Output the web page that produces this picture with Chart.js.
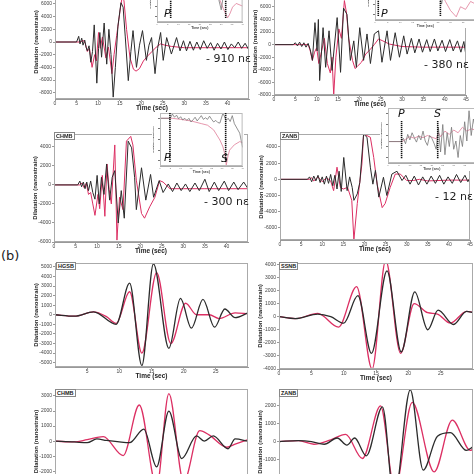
<!DOCTYPE html>
<html>
<head>
<meta charset="utf-8">
<script src="https://cdn.jsdelivr.net/npm/chart.js@4"></script>
<style>
  html, body { margin: 0; padding: 0; background: #fff; }
  #fig { position: relative; width: 474px; height: 474px; overflow: hidden; background: #fff; }
  .note { position: absolute; font: 11px "DejaVu Sans", sans-serif; color: #222; line-height: 12px; white-space: nowrap; }
  .pick { position: absolute; font: italic 11px "DejaVu Sans", sans-serif; color: #111; line-height: 12px; }
  .stn { position: absolute; font: bold 5.5px "Liberation Sans", sans-serif; color: #222; border: 1px solid #888;
         background: #fff; padding: 0 1px; line-height: 6px; z-index: 5; }
</style>
</head>
<body>
<div id="fig"></div>
<script>
// ---- (a) raw records: [time (s), dilatation (nanostrain)] ----
const hgsbRawObs = [[0,0],[5,0],[5.5,900],[5.8,-300],[6.2,600],[6.5,-500],[6.9,300],[7.2,-800],[7.5,-1400],[7.9,-600],[8.3,-3200],[8.7,-1500],[9.1,2700],[9.7,-6500],[10.1,-1000],[10.4,1500],[10.8,-2400],[11.4,3000],[12,-3500],[12.5,2000],[13,-2000],[13.5,-8700],[14,-4000],[14.6,2500],[15.3,6200],[15.8,5500],[16.3,800],[17,-6100],[17.6,-1500],[18.1,1800],[18.9,-4000],[19.6,-500],[20.3,1800],[21.2,-2900],[21.8,-500],[22.4,700],[23.2,-5000],[23.8,-1000],[24.5,1500],[25.1,-2900],[25.9,700],[27,-1900],[28.2,700],[29,-1400],[29.8,200],[30.5,-1400],[31.3,100],[32.1,-1300],[32.9,0],[33.7,-1200],[34.5,200],[35.3,-1000],[36.1,-100],[36.9,-1300],[37.7,-200],[38.5,-1100],[39.3,0],[40.1,-1200],[40.9,-300],[41.7,-900],[42.5,0],[43.3,-1000],[44.1,-200],[45,-1300]];
const hgsbRawSyn = [[0,0],[6,0],[6.5,300],[7,-200],[7.5,-1500],[8,-1000],[8.6,-4000],[9.2,-2000],[9.6,-3000],[10.1,1500],[10.5,-1000],[11,800],[11.8,-2500],[12.4,-800],[13.2,-5000],[13.7,-2000],[14.3,1000],[14.8,3500],[15.2,5500],[15.6,7200],[16,6500],[16.6,2000],[17.4,-2500],[18.2,-4300],[18.8,-4600],[19.6,-4200],[20.5,-3000],[21.5,-2200],[22.5,-1500],[23.5,-800],[24.5,-300],[25.5,-500],[27,-700],[30,-900],[35,-900],[40,-900],[45,-900]];

const ssnbRawObs = [[0,0],[4.5,0],[5,300],[5.5,-200],[6,400],[6.5,-300],[7,300],[7.5,-400],[8,200],[8.5,-800],[9,-2500],[9.6,3500],[10.1,-1000],[10.4,4000],[10.7,-5700],[11.5,2700],[12.1,-3600],[12.9,2200],[13.6,-4100],[14.8,4300],[15.6,-4400],[16.3,5800],[17.1,4800],[17.9,-2500],[18.7,600],[19.3,-3600],[20.1,2700],[21,-2500],[21.8,1700],[22.6,-3000],[23.5,1700],[24.5,2200],[25.3,-2800],[26.5,2200],[27.3,-2500],[28.4,1900],[29.4,-2000],[30.4,1400],[31.2,-1500],[32.2,1000],[33,-1300],[34,900],[34.8,-1200],[35.8,800],[36.6,-1100],[37.6,900],[38.4,-1000],[39.4,700],[40.2,-1100],[41.2,800],[42,-1000],[43,600],[43.8,-1200],[44.5,500],[45,-1800]];
const ssnbRawSyn = [[0,0],[8,0],[8.5,-1000],[9,-2500],[9.5,-1200],[10,-500],[10.5,-3000],[11,-1500],[11.8,1000],[12.5,-3000],[13.2,-4500],[13.6,-2000],[14,-8000],[14.5,-2000],[15.2,2500],[15.8,1000],[16.5,7000],[17,5000],[17.5,1000],[18.4,-2500],[19,-3800],[19.6,-3400],[20.5,-2800],[21.5,-1500],[22.5,-800],[23.5,0],[24.5,900],[25.5,600],[27,100],[30,-300],[35,-400],[40,-400],[45,-400]];

const chmbRawObs = [[0,0],[5.5,0],[6,400],[6.4,-200],[6.8,300],[7.2,-400],[7.6,300],[8,-600],[8.5,400],[9,-800],[9.5,-1500],[10,1000],[10.5,-2000],[11,800],[11.6,-1000],[12.2,2200],[12.9,-1600],[13.5,800],[14.1,1500],[14.9,-4000],[15.6,-600],[16.3,-3500],[17.2,4600],[18,3900],[18.7,800],[19.1,-2600],[20.3,1800],[21.3,-1600],[22.4,1100],[23.1,-1300],[24.4,450],[25.3,-800],[26.5,100],[27.5,-700],[28.5,200],[29.5,-600],[30.5,100],[31.5,-700],[32.7,200],[33.7,-600],[35,600],[36,-700],[37.2,300],[38.2,-600],[39.5,400],[40.5,-600],[41.7,300],[42.7,-500],[44,300],[45,-400]];
const chmbRawSyn = [[0,0],[6,0],[6.5,200],[7,-300],[7.5,200],[8,-1000],[8.5,-800],[9,-2000],[9.5,-3200],[10.2,-1000],[10.6,-2500],[11.2,1000],[11.8,-3300],[12.3,2200],[12.8,-500],[13.3,-2000],[14.1,4200],[14.6,-5800],[15.2,-1300],[16,-2600],[16.8,4600],[17.8,5100],[18.3,4200],[19.1,500],[20.3,-3000],[21,-3500],[22.2,-2300],[23.4,-1300],[24.5,450],[25.3,300],[26.9,-400],[30,-400],[35,-400],[40,-400],[45,-400]];

const zanbRawObs = [[0,0],[6.5,0],[7,300],[7.5,-300],[8,400],[8.5,-200],[9,500],[9.5,-400],[10,300],[10.5,-600],[11,400],[11.5,-500],[12,600],[12.5,-800],[13,500],[13.5,-1200],[14,1000],[14.5,-1500],[15.1,2700],[15.9,-1400],[16.5,300],[17.1,-1000],[17.5,-2600],[18.3,-1800],[18.9,-400],[19.8,5600],[20.6,5200],[21.4,1500],[22,-600],[22.6,1100],[23.4,-2200],[24.5,250],[25.3,-2000],[26.5,650],[27.7,1000],[28.9,-150],[29.8,500],[30.8,-600],[31.8,400],[32.8,-700],[33.8,300],[34.8,-600],[35.8,400],[36.8,-500],[37.8,500],[38.8,-600],[39.8,300],[40.8,-500],[41.8,600],[42.8,-400],[43.8,500],[44.5,-300],[45,200]];
const zanbRawSyn = [[0,0],[7,0],[7.5,200],[8,-200],[9,300],[10,-300],[11,200],[12,-200],[12.7,-1400],[13.5,1500],[14.3,-1000],[15,-1200],[16,-1000],[17,-2600],[17.5,-7500],[18.3,-3000],[19.4,1900],[19.8,5600],[21.4,5200],[22.2,2700],[23,-600],[24.2,-3500],[24.9,-3000],[26.1,-1000],[27.3,650],[28.5,650],[30,-150],[31.6,-150],[33,0],[35,-200],[40,-100],[45,-100]];

// ---- (b) filtered records ----
const hgsbFiltObs = [[0,0],[3,-150],[6,300],[9.5,-1000],[11.6,3300],[13.5,-5300],[15.3,5300],[17.7,-3500],[19.5,1700],[21.2,-1400],[23,1600],[24.8,-1300],[26.4,600],[28,-300],[30,200]];
const hgsbFiltSyn = [[0,0],[3,-150],[6,300],[8,-200],[9.5,-900],[11.6,2400],[13.5,-4000],[15.8,4400],[18,-3000],[20.3,1200],[22,0],[24,0],[25.5,-400],[28,200],[30,100]];
const ssnbFiltObs = [[0,0],[2.5,-150],[6,200],[8,0],[10,-500],[12.2,1600],[14.3,-2800],[16.7,3500],[18.9,-2700],[21,1900],[23,-1000],[24.6,500],[27,-600],[29,400],[30,300]];
const ssnbFiltSyn = [[0,0],[2.5,-150],[6,250],[9.2,-800],[12,2300],[14.4,-4000],[16.5,4300],[18.8,-2800],[20.9,1000],[23,300],[24.5,200],[26.5,-500],[29,400],[30,350]];
const chmbFiltObs = [[0,0],[3,-50],[5,-100],[6.5,150],[8,50],[10,-50],[11.6,-100],[13.8,800],[15.8,-1700],[17.7,2000],[19.7,-1150],[22,350],[23.2,0],[24.6,350],[26.9,-500],[28,150],[30,0]];
const chmbFiltSyn = [[0,0],[3,-50],[5,100],[7.5,300],[10.6,-950],[13.1,2400],[15.8,-3000],[17.7,3150],[20,-2700],[22.5,700],[24,400],[26.7,-400],[28,-200],[30,100]];
const zanbFiltObs = [[0,0],[3,50],[5,0],[7,-150],[9,200],[10.5,-200],[11.7,200],[13.5,-800],[16,1950],[17.8,-3200],[20.3,2900],[22.3,-1600],[24.5,300],[26.5,500],[29,-500],[30,-300]];
const zanbFiltSyn = [[0,0],[3,50],[5.4,-150],[8,100],[10.3,400],[12.9,-950],[15.7,2000],[17.9,-2700],[20.6,2200],[24,-1700],[26.8,1200],[29.6,-500],[30,-400]];

// ---- insets (zoom on P to S window, relative units) ----
const insHgsbObs = [[0,8],[6,8.5],[8,7.8],[10,8.6],[12,7.6],[14,8.4],[16,7.9],[18,8.7],[20,7.5],[22,8.2],[24,7.4],[26,7.9],[28,6.5],[29,4],[30,2.3],[31,5],[32,7],[33,6],[35,8],[37,5],[40,6]];
const insHgsbSyn = [[0,8],[6,8],[10,7.8],[15,7.5],[20,7],[25,6],[28,5],[29.3,4.2],[31,2.5],[33,0.8],[34,1.5],[35.3,2.8],[37,3.5],[40,3]];
const insSsnbObs = [[0,8],[2,8.4],[4,7.6],[6,8.6],[8,7.5],[10,8.2],[12,7.8],[14,8.8],[16,7.4],[18,8.3],[20,7.6],[22,8.5],[24,7],[25.5,5],[26.5,3],[27.5,6],[29,7.5],[31,6],[33,8],[35,4.5],[37,7],[40,6]];
const insSsnbSyn = [[0,8],[5,8],[10,7.8],[15,7.6],[20,7.3],[24,6.5],[26,5.5],[28,3.5],[30,1.8],[32.3,0.6],[34,2.5],[36,2],[38,3.5],[40,3]];
const insChmbObs = [[0,9],[5,9],[6,9.8],[7,9.2],[8,9.6],[9,8.9],[10,9.3],[11,8.7],[12,9],[13,8.6],[14,9],[15,8.3],[16,8.7],[17,9.2],[18,8.5],[19,9],[20,9.5],[21,8.8],[22,9.1],[23,8.8],[24,9.4],[25,8.8],[26,8.3],[27,8.6],[28,8.2],[29,8.1],[30.5,10],[32,8.6],[33,9],[34,8.4],[35,9.5],[36,8],[38.6,6.2],[40,3.5]];
const insChmbSyn = [[0,9],[6,9],[10,8.8],[15,8.5],[20,8],[23,7.7],[26,6.8],[29,4.9],[30.5,3.6],[31.5,2],[32.1,0.2],[33,2],[33.7,3],[36,4],[38.6,4.6],[40,4.4]];
const insZanbObs = [[0,3.9],[6,3.9],[7,4.5],[8,3.5],[9,5.2],[10,4.2],[11,5.5],[12,4.6],[13,3.8],[14,5],[15,4.2],[16,5.8],[17,4],[18,3.2],[19,5],[20,4.5],[21,3.6],[22,2.5],[23,6.5],[24,2],[25,7],[26,1.5],[27,5.5],[28,3],[29,6.5],[30,2.5],[31,4],[32,1],[33,5],[34,3],[35,7.5],[36,4],[37,9.5],[38,5],[39,8],[40,6]];
const insZanbSyn = [[0,3.9],[6.5,3.9],[8,4.3],[10,4.8],[12,4.5],[14,4.9],[16,4.6],[18,5],[20,4.7],[22,4.4],[23,5.5],[24,4.8],[26,5.8],[28,5.2],[30,6],[32,5.5],[34,6.5],[36,5.8],[38,6.2],[40,6]];

const rawTimeTicks = [0, 5, 10, 15, 20, 25, 30, 35, 40, 45];
const leftRawTimeTicks = [0, 5, 10, 15, 20, 25, 30, 35, 40];
const filtTimeTicks = [0, 5, 10, 15, 20, 25];

const BLK = "#2b2b2b";
const RED = "#dc2f63";
const fig = document.getElementById("fig");

// frame round the plot, optional white background, dashed P/S picks
const frame = {
  id: "frame",
  beforeDraw(chart, args, o) {
    if (!o.bg) return;
    const ctx = chart.ctx;
    ctx.save();
    ctx.fillStyle = o.bg;
    ctx.fillRect(0, 0, chart.width, chart.height);
    ctx.restore();
  },
  afterDraw(chart, args, o) {
    const { ctx, chartArea: { left, top, right, bottom } } = chart;
    ctx.save();
    ctx.strokeStyle = o.color || "#aaa";
    ctx.lineWidth = 1;
    ctx.strokeRect(left + 0.5, top + 0.5, right - left - 1, bottom - top - 1);
    (o.picks || []).forEach((p) => {
      const x = chart.scales.x.getPixelForValue(p);
      ctx.beginPath();
      ctx.strokeStyle = "#111";
      ctx.lineWidth = 1.6;
      ctx.setLineDash([1.2, 0.8]);
      ctx.moveTo(x, top + (o.pickTop || 0));
      ctx.lineTo(x, bottom - 4);
      ctx.stroke();
    });
    ctx.restore();
  },
};

function addCanvas(left, top, w, h) {
  const cv = document.createElement("canvas");
  cv.width = w;
  cv.height = h;
  cv.style.cssText = `position:absolute;left:${left}px;top:${top}px;width:${w}px;height:${h}px`;
  fig.appendChild(cv);
  return cv;
}

function panel(o) {
  const YW = 22, XH = 13, PT = 3, PR = 6;
  const left = Math.round(o.x0) - YW, top = Math.round(o.y0) - PT;
  const w = Math.round(o.x1) - left + PR, h = Math.round(o.y1) - top + XH;
  const cv = addCanvas(left, top, w, h);
  const tickFont = { family: "Liberation Sans", size: 5 };
  new Chart(cv, {
    type: "line",
    data: {
      datasets: [
        { data: o.obs, borderColor: BLK, borderWidth: o.lw, pointRadius: 0, cubicInterpolationMode: o.smooth ? "monotone" : "default", tension: 0 },
        { data: o.syn, borderColor: RED, borderWidth: o.lw, pointRadius: 0, cubicInterpolationMode: o.smooth ? "monotone" : "default", tension: 0 },
      ],
    },
    options: {
      responsive: false,
      animation: false,
      events: [],
      layout: { padding: { top: PT, right: PR, left: 0, bottom: 0 } },
      plugins: { legend: { display: false }, tooltip: { enabled: false }, frame: {} },
      scales: {
        x: {
          type: "linear", min: o.xmin, max: o.xmax,
          afterBuildTicks: (s) => { s.ticks = o.xticks.map((v) => ({ value: v })); },
          afterFit: (s) => { s.height = XH; },
          ticks: { font: tickFont, color: "#444", padding: 0, maxRotation: 0, autoSkip: false, callback: (v) => String(v) },
          grid: { drawOnChartArea: false, tickLength: 2, color: "#999" },
          border: { color: "#999" },
          title: { display: true, text: "Time (sec)", font: { family: "Liberation Sans", size: 6.5, weight: "bold" }, color: "#222", padding: 0 },
        },
        y: {
          min: o.ymin, max: o.ymax,
          afterBuildTicks: (s) => { s.ticks = o.yticks.map((v) => ({ value: v })); },
          afterFit: (s) => { s.width = YW; },
          ticks: { font: tickFont, color: "#444", padding: 1, autoSkip: false, callback: (v) => String(v) },
          grid: { drawOnChartArea: false, tickLength: 2, color: "#999" },
          border: { color: "#999" },
          title: { display: true, text: "Dilatation (nanostrain)", font: { family: "Liberation Sans", size: 6, weight: "bold" }, color: "#222", padding: 0 },
        },
      },
    },
    plugins: [frame],
  });
}

function inset(o) {
  const YW = 8, XH = 8, PT = 1, PR = 1;
  const left = Math.round(o.x0) - YW, top = Math.round(o.y0) - PT;
  const w = Math.round(o.x1) - left + PR, h = Math.round(o.y1) - top + XH;
  const cv = addCanvas(left, top, w, h);
  const tiny = { family: "Liberation Sans", size: 2.5 };
  new Chart(cv, {
    type: "line",
    data: {
      datasets: [
        { data: o.obs, borderColor: "#777", borderWidth: 0.8, pointRadius: 0, tension: 0 },
        { data: o.syn, borderColor: "#e07c98", borderWidth: 0.8, pointRadius: 0, tension: 0 },
      ],
    },
    options: {
      responsive: false,
      animation: false,
      events: [],
      layout: { padding: { top: PT, right: PR, left: 0, bottom: 0 } },
      plugins: { legend: { display: false }, tooltip: { enabled: false }, frame: { bg: "#fff", color: "#bbb", picks: o.picks, pickTop: o.pickTop } },
      scales: {
        x: {
          type: "linear", min: 0, max: 40,
          afterBuildTicks: (s) => { s.ticks = [0, 5, 10, 15, 20, 25, 30, 35, 40].map((v) => ({ value: v })); },
          afterFit: (s) => { s.height = XH; },
          ticks: { font: tiny, color: "#777", padding: 0, maxRotation: 0, autoSkip: false },
          grid: { drawOnChartArea: false, tickLength: 1, color: "#aaa" },
          border: { color: "#aaa" },
          title: { display: true, text: "Time (sec)", font: { family: "Liberation Sans", size: 3.5, weight: "bold" }, color: "#444", padding: 0 },
        },
        y: {
          min: 0, max: 10,
          afterBuildTicks: (s) => { s.ticks = [1, 3, 5, 7, 9].map((v) => ({ value: v })); },
          afterFit: (s) => { s.width = YW; },
          ticks: { display: false },
          grid: { drawOnChartArea: false, tickLength: 2, color: "#777" },
          border: { color: "#aaa" },
          title: { display: true, text: "Dilatation (nanostrain)", font: { family: "Liberation Sans", size: 2.5, weight: "bold" }, color: "#444", padding: 0 },
        },
      },
    },
    plugins: [frame],
  });
}

function text(cls, str, x, y) {
  const d = document.createElement("div");
  d.className = cls;
  d.textContent = str;
  d.style.left = x + "px";
  d.style.top = y + "px";
  fig.appendChild(d);
}

const step = (a, b, s) => { const r = []; for (let v = a; v <= b; v += s) r.push(v); return r; };

// (a) raw
panel({ x0: 55, x1: 249, y0: -16, y1: 98.5, xmin: 0, xmax: 45, ymin: -9000, ymax: 9000, xticks: leftRawTimeTicks, yticks: step(-8000, 8000, 2000), obs: hgsbRawObs, syn: hgsbRawSyn, lw: 1 });
panel({ x0: 274, x1: 466, y0: -13, y1: 94.6, xmin: 0, xmax: 45, ymin: -8000, ymax: 9000, xticks: rawTimeTicks, yticks: step(-8000, 8000, 2000), obs: ssnbRawObs, syn: ssnbRawSyn, lw: 1 });
panel({ x0: 54, x1: 248, y0: 132.7, y1: 242.2, xmin: 0, xmax: 45, ymin: -6000, ymax: 5350, xticks: leftRawTimeTicks, yticks: step(-6000, 4000, 2000), obs: chmbRawObs, syn: chmbRawSyn, lw: 1 });
panel({ x0: 280, x1: 470, y0: 133, y1: 240, xmin: 0, xmax: 45, ymin: -7500, ymax: 5600, xticks: rawTimeTicks, yticks: step(-6000, 4000, 2000), obs: zanbRawObs, syn: zanbRawSyn, lw: 1 });

// (b) filtered
panel({ x0: 55, x1: 248, y0: 261.6, y1: 367, xmin: 0, xmax: 30, ymin: -5450, ymax: 5400, xticks: filtTimeTicks.slice(1), yticks: step(-5000, 5000, 1000), obs: hgsbFiltObs, syn: hgsbFiltSyn, lw: 1.3, smooth: true });
panel({ x0: 279, x1: 473, y0: 261.6, y1: 368.5, xmin: 0, xmax: 30, ymin: -4000, ymax: 4100, xticks: filtTimeTicks, yticks: step(-4000, 4000, 1000), obs: ssnbFiltObs, syn: ssnbFiltSyn, lw: 1.3, smooth: true });
panel({ x0: 55, x1: 248, y0: 387.7, y1: 494, xmin: 0, xmax: 30, ymin: -3500, ymax: 3460, xticks: filtTimeTicks.slice(1), yticks: step(-3000, 3000, 1000), obs: chmbFiltObs, syn: chmbFiltSyn, lw: 1.3, smooth: true });
panel({ x0: 279, x1: 473, y0: 388.3, y1: 495, xmin: 0, xmax: 30, ymin: -3000, ymax: 2950, xticks: filtTimeTicks, yticks: step(-3000, 2000, 1000), obs: zanbFiltObs, syn: zanbFiltSyn, lw: 1.3, smooth: true });

// insets
inset({ x0: 157, x1: 243, y0: -31, y1: 22, obs: insHgsbObs, syn: insHgsbSyn, picks: [6.4, 32.1], pickTop: 0 });
inset({ x0: 375, x1: 476, y0: -33, y1: 20, obs: insSsnbObs, syn: insSsnbSyn, picks: [1.3, 26], pickTop: 0 });
inset({ x0: 160, x1: 243, y0: 113, y1: 166, obs: insChmbObs, syn: insChmbSyn, picks: [4.8, 31.8], pickTop: 0 });
inset({ x0: 388, x1: 476, y0: 108, y1: 163, obs: insZanbObs, syn: insZanbSyn, picks: [6.2, 22.7], pickTop: 13 });

// labels
text("pick", "P", 164, 8);
text("pick", "P", 381, 8);
text("pick", "P", 164, 152);
text("pick", "S", 221, 153);
text("pick", "P", 398, 108);
text("pick", "S", 434, 108);

text("note", "- 910 n\u03b5", 206, 53);
text("note", "- 380 n\u03b5", 424, 59);
text("note", "- 300 n\u03b5", 204, 196);
text("note", "- 12 n\u03b5", 435, 191);
const b = document.createElement("div");
b.className = "note";
b.style.cssText = "left:1px;top:249px;font-size:13px;line-height:14px";
b.textContent = "(b)";
fig.appendChild(b);

text("stn", "CHMB", 54, 132);
text("stn", "ZANB", 280, 132);
text("stn", "HGSB", 56, 262);
text("stn", "SSNB", 279, 262);
text("stn", "CHMB", 55, 389);
text("stn", "ZANB", 279, 389);
</script>
</body>
</html>
